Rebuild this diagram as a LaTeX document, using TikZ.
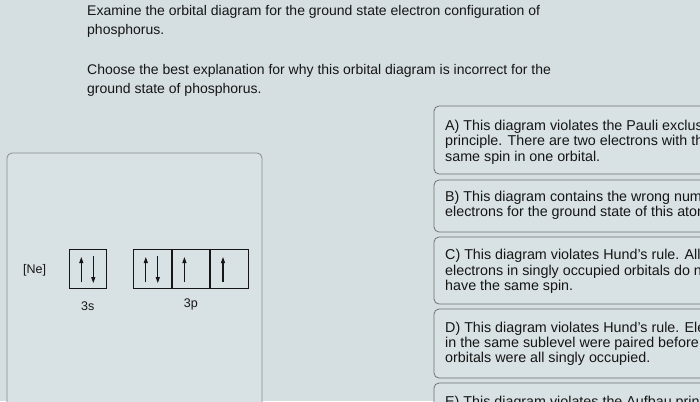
\documentclass[tikz,border=0pt]{standalone}
\usepackage{fontspec}
\setmainfont{Liberation Sans}
\usetikzlibrary{arrows.meta}
\definecolor{bg}{HTML}{D5DEE1}
\definecolor{pfill}{HTML}{D8E1E3}
\definecolor{ink}{HTML}{161616}
\definecolor{edge}{HTML}{6E7274}
\begin{document}
\begin{tikzpicture}[x=1pt,y=-1pt,
  qtext/.style={anchor=base west,inner sep=0,font=\fontsize{14}{16}\selectfont,text=ink},
  otext/.style={anchor=base west,inner sep=0,font=\fontsize{14.3}{16}\selectfont,text=ink},
  panel/.style={draw=edge,rounded corners=5pt,fill=pfill,line width=0.8pt},
  orb/.style={draw=ink,line width=1.1pt,minimum width=37.5pt,minimum height=39pt,inner sep=0,anchor=north west},
  lbl/.style={inner sep=0,font=\fontsize{12.5}{14}\selectfont,text=ink},
  spin/.style={line width=1.1pt,draw=ink,-{Triangle[length=6pt,width=4pt]}}
]
\useasboundingbox (0,0) rectangle (700,401);
\clip (0,0) rectangle (700,401);
\fill[bg] (0,0) rectangle (700,401);

% question
\node[qtext] (q1) at (87,15.5) {Examine the orbital diagram for the ground state electron configuration of};
\node[qtext] (q2) at (87,34.5) {phosphorus.};
\node[qtext] (q3) at (87,75) {Choose the best explanation for why this orbital diagram is incorrect for the};
\node[qtext] (q4) at (87,93.5) {ground state of phosphorus.};

% left panel
\draw[panel,draw=edge!80] (7,153) rectangle (262,420);
\node[lbl,anchor=base west] (ne) at (23,273) {[Ne]};
\node[orb] (s1) at (68.5,249) {};
\node[orb] (p1) at (133,249) {};
\node[orb] (p2) at (p1.north east) {};
\node[orb] (p3) at (p2.north east) {};
\node[lbl,anchor=base] (l3s) at (s1.south |- 0,310) {3s};
\node[lbl,anchor=base] (l3p) at (p2.south |- 0,307) {3p};

% spins
\coordinate (s1u0) at ([xshift=-6.5pt,yshift=7pt]s1.south);
\coordinate (s1u1) at ([xshift=-6.5pt,yshift=-8pt]s1.north);
\coordinate (s1d0) at ([xshift=5.5pt,yshift=-7pt]s1.north);
\coordinate (s1d1) at ([xshift=5.5pt,yshift=6pt]s1.south);
\draw[spin] (s1u0) -- (s1u1);
\draw[spin] (s1d0) -- (s1d1);
\coordinate (p1u0) at ([xshift=-6.5pt,yshift=7pt]p1.south);
\coordinate (p1u1) at ([xshift=-6.5pt,yshift=-8pt]p1.north);
\coordinate (p1d0) at ([xshift=5.5pt,yshift=-7pt]p1.north);
\coordinate (p1d1) at ([xshift=5.5pt,yshift=6pt]p1.south);
\draw[spin] (p1u0) -- (p1u1);
\draw[spin] (p1d0) -- (p1d1);
\coordinate (p2u0) at ([xshift=-6.5pt,yshift=7pt]p2.south);
\coordinate (p2u1) at ([xshift=-6.5pt,yshift=-8pt]p2.north);
\draw[spin] (p2u0) -- (p2u1);
\coordinate (p3u0) at ([xshift=-6.5pt,yshift=7pt]p3.south);
\coordinate (p3u1) at ([xshift=-6.5pt,yshift=-8pt]p3.north);
\draw[spin] (p3u0) -- (p3u1);

% options
\draw[panel] (434,106) rectangle (720,174);
\node[otext] (a1) at (445,130) {A) This diagram violates the Pauli exclusion};
\node[otext] (a2) at (445,145.5) {principle. There are two electrons with the};
\node[otext] (a3) at (445,161) {same spin in one orbital.};

\draw[panel] (434,180) rectangle (720,232);
\node[otext] (b1) at (445,201) {B) This diagram contains the wrong number of};
\node[otext] (b2) at (445,216.5) {electrons for the ground state of this atom.};

\draw[panel] (434,237) rectangle (720,304);
\node[otext] (c1) at (445,259) {C) This diagram violates Hund's rule. All};
\node[otext] (c2) at (445,275) {electrons in singly occupied orbitals do not};
\node[otext] (c3) at (445,290.5) {have the same spin.};

\draw[panel] (434,309) rectangle (720,378);
\node[otext] (d1) at (445,332) {D) This diagram violates Hund's rule. Electrons};
\node[otext] (d2) at (445,347) {in the same sublevel were paired before the};
\node[otext] (d3) at (445,362.5) {orbitals were all singly occupied.};

\draw[panel] (434,383) rectangle (720,440);
\node[otext] (e1) at (445,406) {E) This diagram violates the Aufbau principle.};
\end{tikzpicture}
\end{document}
